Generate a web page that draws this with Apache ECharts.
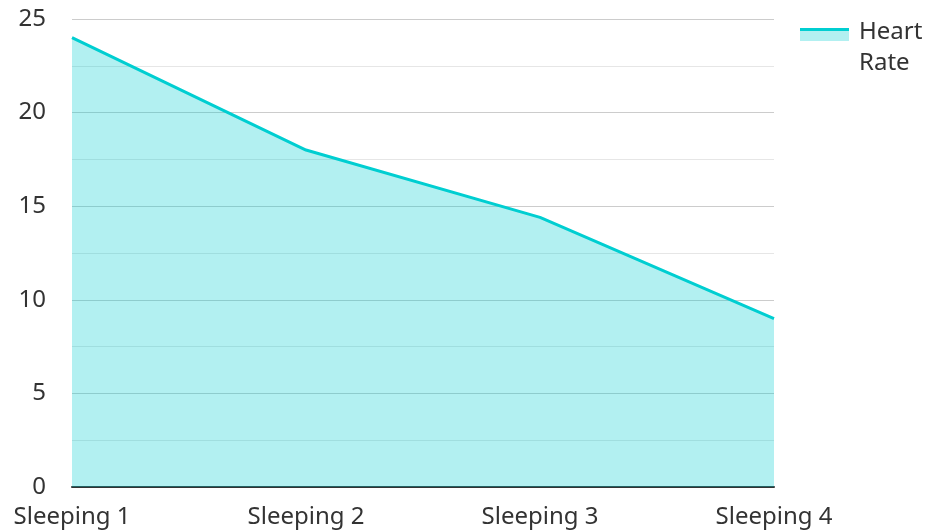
<!DOCTYPE html>
<html>
<head>
<meta charset="utf-8">
<script src="https://cdn.jsdelivr.net/npm/echarts@6/dist/echarts.min.js"></script>
<style>
html,body{margin:0;padding:0;background:#fff;}
#chart{width:928px;height:531px;}
</style>
</head>
<body>
<div id="chart"></div>
<script>
const categories = ['Sleeping 1', 'Sleeping 2', 'Sleeping 3', 'Sleeping 4'];
const heartRate = [24, 18, 14.4, 9];
const seriesName = 'Heart Rate';
const yTicks = [0, 5, 10, 15, 20, 25];

const lineColor = '#00CED1';
const areaColor = 'rgba(0,206,209,0.3)';
const font = 'Noto Sans';

const chart = echarts.init(document.getElementById('chart'));
chart.setOption({
  animation: false,
  textStyle: { fontFamily: font },
  grid: { left: 72, right: 154, top: 19, bottom: 44, containLabel: false },
  legend: {
    left: 800,
    top: 17,
    padding: 0,
    align: 'left',
    orient: 'vertical',
    icon: 'rect',
    itemWidth: 49,
    itemHeight: 56,
    itemGap: 10,
    data: [{ name: seriesName }],
    formatter: function (name) { return name.replace(' ', '\n'); },
    itemStyle: {
      color: {
        type: 'linear', x: 0, y: 0, x2: 0, y2: 1,
        colorStops: [
          { offset: 0, color: 'rgba(255,255,255,0)' },
          { offset: 0.14, color: 'rgba(255,255,255,0)' },
          { offset: 0.14, color: lineColor },
          { offset: 0.195, color: lineColor },
          { offset: 0.195, color: '#b2f0f1' },
          { offset: 0.37, color: '#b2f0f1' },
          { offset: 0.37, color: 'rgba(255,255,255,0)' },
          { offset: 1, color: 'rgba(255,255,255,0)' }
        ]
      },
      borderWidth: 0
    },
    textStyle: {
      fontFamily: font, fontSize: 24, color: '#333', lineHeight: 31,
      padding: [0, 0, 0, 5]
    }
  },
  xAxis: {
    type: 'category',
    data: categories,
    boundaryGap: false,
    axisLine: { show: true, lineStyle: { color: '#333', width: 2 } },
    axisTick: { show: false },
    axisLabel: { fontFamily: font, fontSize: 24, color: '#333', margin: 18 },
    splitLine: { show: false }
  },
  yAxis: {
    type: 'value',
    min: yTicks[0],
    max: yTicks[yTicks.length - 1],
    interval: 5,
    axisLine: { show: false },
    axisTick: { show: false },
    axisLabel: { fontFamily: font, fontSize: 24, color: '#333', margin: 26 },
    splitLine: { show: true, lineStyle: { color: '#cccccc', width: 1 } },
    minorTick: { show: false, splitNumber: 2 },
    minorSplitLine: { show: true, lineStyle: { color: '#e6e6e6', width: 1 } }
  },
  series: [{
    name: seriesName,
    type: 'line',
    data: heartRate,
    symbol: 'none',
    lineStyle: { color: lineColor, width: 3 },
    itemStyle: { color: lineColor },
    areaStyle: { color: areaColor, opacity: 1 }
  }]
});
</script>
</body>
</html>
